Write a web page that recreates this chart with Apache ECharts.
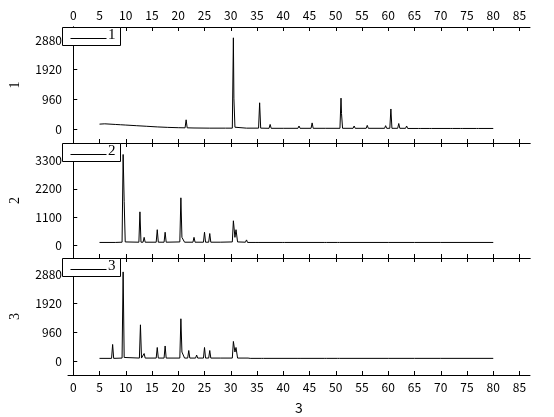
<!DOCTYPE html>
<html><head><meta charset="utf-8">
<script src="https://cdn.jsdelivr.net/npm/echarts@6/dist/echarts.min.js"></script>
<style>html,body{margin:0;padding:0;background:#fff}#c{width:554px;height:417px}</style>
</head><body><div id="c"></div>
<script>
const xTicks=[0,5,10,15,20,25,30,35,40,45,50,55,60,65,70,75,80,85];
const yTicks1=[0,960,1920,2880];
const yTicks2=[0,1100,2200,3300];
const yTicks3=[0,960,1920,2880];
const names=['1','2','3'];
const s1=[[5,160],[6,170],[7,160],[8,150],[9,140],[10,130],[12,110],[14,90],[16,70],[18,55],[20,45],[21.3,40],[21.5,300],[21.7,40],[23,35],[26,30],[29,30],[30.3,30],[30.5,2950],[30.6,1000],[30.8,60],[33,30],[35.3,30],[35.5,850],[35.7,30],[37.3,25],[37.5,150],[37.7,25],[40,25],[42.8,25],[43,100],[43.2,25],[45.3,25],[45.5,200],[45.7,25],[48,25],[50.8,25],[51,1000],[51.1,500],[51.3,25],[53.3,25],[53.5,100],[53.7,25],[55.8,25],[56,120],[56.2,25],[59.3,25],[59.5,110],[59.7,25],[60.3,25],[60.5,650],[60.7,25],[61.8,25],[62,180],[62.2,25],[63.3,25],[63.5,100],[63.7,20],[65.8,20],[66,60],[66.2,20],[67.8,20],[68,50],[68.2,20],[71.8,20],[72,35],[72.2,20],[73.8,20],[74,40],[74.2,20],[76.8,20],[77,45],[77.2,20],[80,20]];
const s2=[[5,100],[8,100],[9.3,110],[9.5,3550],[9.7,1700],[9.9,120],[12.5,110],[12.7,1300],[12.9,110],[13.3,110],[13.5,300],[13.7,110],[15.8,110],[16,600],[16.2,110],[17.3,110],[17.5,500],[17.7,110],[20.3,120],[20.5,1850],[20.7,300],[21,300],[21.2,110],[22.8,110],[23,300],[23.2,110],[24.8,110],[25,500],[25.2,110],[25.8,110],[26,450],[26.2,110],[28,110],[30.3,120],[30.5,950],[30.8,300],[31,600],[31.3,120],[32.8,110],[33,200],[33.2,100],[34.8,100],[35,150],[35.2,100],[39.8,100],[40,130],[40.2,100],[47.8,100],[48,130],[48.2,100],[50.3,100],[50.5,130],[50.7,100],[55,100],[60,100],[65,100],[70,100],[75,100],[80,100]];
const s3=[[5,90],[7.3,90],[7.5,550],[7.7,90],[9.3,100],[9.5,2950],[9.7,120],[12.6,100],[12.8,1200],[13,100],[13.3,100],[13.5,250],[13.7,100],[15.8,100],[16,450],[16.2,100],[17.3,100],[17.5,500],[17.7,100],[20.3,100],[20.5,1400],[20.7,300],[21,350],[21.2,100],[21.8,100],[22,350],[22.2,100],[23.3,100],[23.5,200],[23.7,100],[24.8,100],[25,450],[25.2,100],[25.8,100],[26,350],[26.2,100],[28,100],[30.3,100],[30.5,650],[30.8,300],[31,450],[31.3,100],[33.3,100],[33.5,150],[33.7,90],[35.8,90],[36,130],[36.2,90],[42.8,90],[43,130],[43.2,90],[47.8,90],[48,110],[48.2,90],[50.3,90],[50.5,120],[50.7,90],[55,90],[60,90],[65,90],[70,90],[75,90],[80,90]];
const series=[s1,s2,s3];
const yT=[yTicks1,yTicks2,yTicks3];
const ranges=[[-450,3300],[-510,4000],[-460,3410]];
const grids=[{top:27,height:116},{top:143,height:115},{top:258,height:117}];
const font='Noto Sans CJK SC';
const xAxis=[],yAxis=[],ser=[],graphic=[];
grids.forEach((g,i)=>{
  ['bottom','top'].forEach(pos=>{
    const showLab=(pos==='top'&&i===0)||(pos==='bottom'&&i===2);
    xAxis.push({type:'value',gridIndex:i,position:pos,min:-1,max:87,
      axisLine:{onZero:false,lineStyle:{color:'#000',width:1}},
      axisTick:{inside:true,length:4,customValues:xTicks,lineStyle:{color:'#000'}},
      axisLabel:{show:showLab,customValues:xTicks,color:'#000',fontFamily:font,fontSize:12,margin:6},
      splitLine:{show:false},
      name:(pos==='bottom'&&i===2)?'3':'',nameLocation:'middle',nameGap:26,
      nameTextStyle:{color:'#000',fontFamily:font,fontSize:14}});
  });
  yAxis.push({type:'value',gridIndex:i,min:ranges[i][0],max:ranges[i][1],
    axisLine:{show:true,lineStyle:{color:'#000'}},
    axisTick:{inside:true,length:4,customValues:yT[i],lineStyle:{color:'#000'}},
    axisLabel:{customValues:yT[i],color:'#000',fontFamily:font,fontSize:12,margin:6,formatter:v=>String(v)},
    splitLine:{show:false},name:names[i],nameLocation:'middle',nameRotate:90,nameGap:46,
    nameTextStyle:{color:'#000',fontFamily:'Liberation Serif',fontSize:14}});
  yAxis.push({type:'value',gridIndex:i,position:'right',min:ranges[i][0],max:ranges[i][1],
    axisLine:{show:true,lineStyle:{color:'#000'}},axisTick:{show:false},axisLabel:{show:false},splitLine:{show:false}});
  ser.push({type:'line',name:names[i],xAxisIndex:i*2,yAxisIndex:i*2,data:series[i],
    symbol:'none',lineStyle:{color:'#000',width:1},silent:true});
  graphic.push({type:'rect',left:62,top:g.top,shape:{width:58,height:18},style:{fill:'#fff',stroke:'#000',lineWidth:1},z:10});
  graphic.push({type:'line',left:68,top:g.top+9,shape:{x1:0,y1:0,x2:36,y2:0},style:{stroke:'#000',lineWidth:1},z:11});
  graphic.push({type:'text',left:108,top:g.top+1,style:{text:names[i],fill:'#000',font:'15px "Liberation Serif"'},z:11});
});
const chart=echarts.init(document.getElementById('c'),null,{renderer:'canvas'});
chart.setOption({animation:false,backgroundColor:'#fff',
  grid:grids.map(g=>({left:62,right:24,top:g.top,height:g.height})),
  xAxis,yAxis,series:ser,graphic});
</script></body></html>
